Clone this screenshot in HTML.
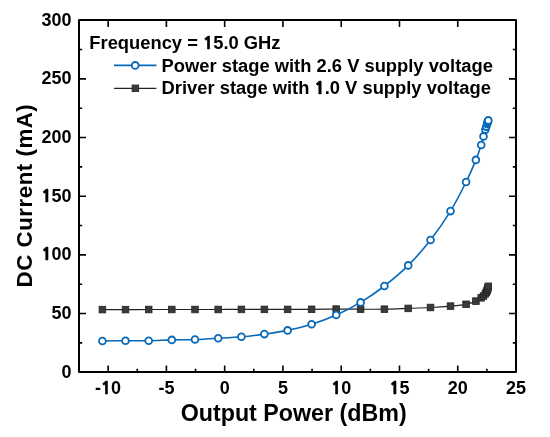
<!DOCTYPE html>
<html><head><meta charset="utf-8"><title>DC Current vs Output Power</title>
<style>
html,body{margin:0;padding:0;background:#fff;}
svg{display:block;}
text{font-family:"Liberation Sans",Arial,sans-serif;font-weight:bold;fill:#000;}
.one{font-family:"NanumGothic","Liberation Sans",sans-serif;font-weight:800;stroke:#000;stroke-width:0.5px;}
</style></head><body>
<svg width="550" height="437" viewBox="0 0 550 437">
<rect width="550" height="437" fill="#fff"/>
<rect x="79.00" y="20.00" width="437.00" height="352.00" fill="none" stroke="#000" stroke-width="2" stroke-linejoin="round"/>
<path d="M108.13,372.00v-6.4 M108.13,20.00v7.1 M166.40,372.00v-6.4 M166.40,20.00v7.1 M224.67,372.00v-6.4 M224.67,20.00v7.1 M282.93,372.00v-6.4 M282.93,20.00v7.1 M341.20,372.00v-6.4 M341.20,20.00v7.1 M399.47,372.00v-6.4 M399.47,20.00v7.1 M457.73,372.00v-6.4 M457.73,20.00v7.1 M137.27,372.00v-3.2 M195.53,372.00v-3.2 M253.80,372.00v-3.2 M312.07,372.00v-3.2 M370.33,372.00v-3.2 M428.60,372.00v-3.2 M486.87,372.00v-3.2 M79.00,313.53h7 M516.00,313.53h-7 M79.00,254.87h7 M516.00,254.87h-7 M79.00,196.20h7 M516.00,196.20h-7 M79.00,137.53h7 M516.00,137.53h-7 M79.00,78.87h7 M516.00,78.87h-7 M79.00,342.87h3.2 M516.00,342.87h-3.2 M79.00,284.20h3.2 M516.00,284.20h-3.2 M79.00,225.53h3.2 M516.00,225.53h-3.2 M79.00,166.87h3.2 M516.00,166.87h-3.2 M79.00,108.20h3.2 M516.00,108.20h-3.2 M79.00,49.53h3.2 M516.00,49.53h-3.2" stroke="#000" stroke-width="1.6" fill="none"/>
<text x="71.6" y="377.50" text-anchor="end" font-size="18">0</text>
<text x="71.6" y="318.83" text-anchor="end" font-size="18">50</text>
<text x="71.6" y="260.17" text-anchor="end" font-size="18"><tspan class="one" font-size="16.67">1</tspan><tspan dx="-0.09">00</tspan></text>
<text x="71.6" y="201.50" text-anchor="end" font-size="18"><tspan class="one" font-size="16.67">1</tspan><tspan dx="-0.09">50</tspan></text>
<text x="71.6" y="142.83" text-anchor="end" font-size="18">200</text>
<text x="71.6" y="84.17" text-anchor="end" font-size="18">250</text>
<text x="71.6" y="25.50" text-anchor="end" font-size="18">300</text>
<text x="108.13" y="393.6" text-anchor="middle" font-size="18">-<tspan class="one" font-size="16.67">1</tspan><tspan dx="-0.09">0</tspan></text>
<text x="166.40" y="393.6" text-anchor="middle" font-size="18">-5</text>
<text x="224.67" y="393.6" text-anchor="middle" font-size="18">0</text>
<text x="282.93" y="393.6" text-anchor="middle" font-size="18">5</text>
<text x="341.20" y="393.6" text-anchor="middle" font-size="18"><tspan class="one" font-size="16.67">1</tspan><tspan dx="-0.09">0</tspan></text>
<text x="399.47" y="393.6" text-anchor="middle" font-size="18"><tspan class="one" font-size="16.67">1</tspan><tspan dx="-0.09">5</tspan></text>
<text x="457.73" y="393.6" text-anchor="middle" font-size="18">20</text>
<text x="516.00" y="393.6" text-anchor="middle" font-size="18">25</text>
<text x="293.7" y="421" text-anchor="middle" font-size="23.25">Output Power (dBm)</text>
<text transform="translate(32.3,195.8) rotate(-90)" x="0" y="0" text-anchor="middle" font-size="22.3" textLength="183.2" lengthAdjust="spacing">DC Current (mA)</text>
<path d="M102.40,309.60 C106.25,309.60 117.78,309.62 125.50,309.60 C133.22,309.58 140.98,309.52 148.70,309.50 C156.42,309.48 164.08,309.50 171.80,309.50 C179.52,309.50 187.27,309.50 195.00,309.50 C202.73,309.50 210.47,309.52 218.20,309.50 C225.93,309.48 233.70,309.42 241.40,309.40 C249.10,309.38 256.70,309.40 264.40,309.40 C272.10,309.40 279.73,309.42 287.60,309.40 C295.47,309.38 303.50,309.35 311.60,309.30 C319.70,309.25 328.03,309.12 336.20,309.10 C344.37,309.08 352.57,309.18 360.60,309.20 C368.63,309.22 376.47,309.33 384.40,309.20 C392.33,309.07 400.52,308.68 408.20,308.40 C415.88,308.12 423.45,307.88 430.50,307.50 C437.55,307.12 444.57,306.63 450.50,306.10 C456.43,305.57 461.87,305.13 466.10,304.30 C470.33,303.47 473.38,302.18 475.90,301.10 C478.42,300.02 479.93,298.65 481.20,297.80 C482.47,296.95 482.80,296.67 483.50,296.00 C484.20,295.33 484.93,294.42 485.40,293.80 C485.87,293.18 486.02,292.80 486.30,292.30 C486.58,291.80 486.90,291.28 487.10,290.80 C487.30,290.32 487.37,289.88 487.50,289.40 C487.63,288.92 487.77,288.42 487.90,287.90 C488.03,287.38 488.23,286.57 488.30,286.30" stroke="#222" stroke-width="1.2" fill="none"/>
<rect x="99.10" y="306.30" width="6.6" height="6.6" fill="#3a3a3a" stroke="#242424" stroke-width="0.8"/>
<rect x="122.20" y="306.30" width="6.6" height="6.6" fill="#3a3a3a" stroke="#242424" stroke-width="0.8"/>
<rect x="145.40" y="306.20" width="6.6" height="6.6" fill="#3a3a3a" stroke="#242424" stroke-width="0.8"/>
<rect x="168.50" y="306.20" width="6.6" height="6.6" fill="#3a3a3a" stroke="#242424" stroke-width="0.8"/>
<rect x="191.70" y="306.20" width="6.6" height="6.6" fill="#3a3a3a" stroke="#242424" stroke-width="0.8"/>
<rect x="214.90" y="306.20" width="6.6" height="6.6" fill="#3a3a3a" stroke="#242424" stroke-width="0.8"/>
<rect x="238.10" y="306.10" width="6.6" height="6.6" fill="#3a3a3a" stroke="#242424" stroke-width="0.8"/>
<rect x="261.10" y="306.10" width="6.6" height="6.6" fill="#3a3a3a" stroke="#242424" stroke-width="0.8"/>
<rect x="284.30" y="306.10" width="6.6" height="6.6" fill="#3a3a3a" stroke="#242424" stroke-width="0.8"/>
<rect x="308.30" y="306.00" width="6.6" height="6.6" fill="#3a3a3a" stroke="#242424" stroke-width="0.8"/>
<rect x="332.90" y="305.80" width="6.6" height="6.6" fill="#3a3a3a" stroke="#242424" stroke-width="0.8"/>
<rect x="357.30" y="305.90" width="6.6" height="6.6" fill="#3a3a3a" stroke="#242424" stroke-width="0.8"/>
<rect x="381.10" y="305.90" width="6.6" height="6.6" fill="#3a3a3a" stroke="#242424" stroke-width="0.8"/>
<rect x="404.90" y="305.10" width="6.6" height="6.6" fill="#3a3a3a" stroke="#242424" stroke-width="0.8"/>
<rect x="427.20" y="304.20" width="6.6" height="6.6" fill="#3a3a3a" stroke="#242424" stroke-width="0.8"/>
<rect x="447.20" y="302.80" width="6.6" height="6.6" fill="#3a3a3a" stroke="#242424" stroke-width="0.8"/>
<rect x="462.80" y="301.00" width="6.6" height="6.6" fill="#3a3a3a" stroke="#242424" stroke-width="0.8"/>
<rect x="472.60" y="297.80" width="6.6" height="6.6" fill="#3a3a3a" stroke="#242424" stroke-width="0.8"/>
<rect x="477.90" y="294.50" width="6.6" height="6.6" fill="#3a3a3a" stroke="#242424" stroke-width="0.8"/>
<rect x="480.20" y="292.70" width="6.6" height="6.6" fill="#3a3a3a" stroke="#242424" stroke-width="0.8"/>
<rect x="482.10" y="290.50" width="6.6" height="6.6" fill="#3a3a3a" stroke="#242424" stroke-width="0.8"/>
<rect x="483.00" y="289.00" width="6.6" height="6.6" fill="#3a3a3a" stroke="#242424" stroke-width="0.8"/>
<rect x="483.80" y="287.50" width="6.6" height="6.6" fill="#3a3a3a" stroke="#242424" stroke-width="0.8"/>
<rect x="484.20" y="286.10" width="6.6" height="6.6" fill="#3a3a3a" stroke="#242424" stroke-width="0.8"/>
<rect x="484.60" y="284.60" width="6.6" height="6.6" fill="#3a3a3a" stroke="#242424" stroke-width="0.8"/>
<rect x="485.00" y="283.00" width="6.6" height="6.6" fill="#3a3a3a" stroke="#242424" stroke-width="0.8"/>
<path d="M102.40,341.00 C106.25,340.95 117.78,340.75 125.50,340.70 C133.22,340.65 140.98,340.83 148.70,340.70 C156.42,340.57 164.08,340.10 171.80,339.90 C179.52,339.70 187.27,339.77 195.00,339.50 C202.73,339.23 210.47,338.75 218.20,338.30 C225.93,337.85 233.70,337.50 241.40,336.80 C249.10,336.10 256.70,335.17 264.40,334.10 C272.10,333.03 279.73,332.05 287.60,330.40 C295.47,328.75 303.50,326.77 311.60,324.20 C319.70,321.63 328.03,318.63 336.20,315.00 C344.37,311.37 352.57,307.23 360.60,302.40 C368.63,297.57 376.47,292.17 384.40,286.00 C392.33,279.83 400.52,273.07 408.20,265.40 C415.88,257.73 423.45,249.05 430.50,240.00 C437.55,230.95 444.57,220.77 450.50,211.10 C456.43,201.43 461.87,190.53 466.10,182.00 C470.33,173.47 473.38,166.07 475.90,159.90 C478.42,153.73 479.93,148.92 481.20,145.00 C482.47,141.08 482.80,138.97 483.50,136.40 C484.20,133.83 484.93,131.23 485.40,129.60 C485.87,127.97 486.02,127.53 486.30,126.60 C486.58,125.67 486.90,124.67 487.10,124.00 C487.30,123.33 487.37,123.03 487.50,122.60 C487.63,122.17 487.77,121.77 487.90,121.40 C488.03,121.03 488.23,120.57 488.30,120.40" stroke="#0868b8" stroke-width="1.6" fill="none"/>
<circle cx="102.40" cy="341.00" r="3.4" fill="#fff" stroke="#0868b8" stroke-width="1.8"/>
<circle cx="125.50" cy="340.70" r="3.4" fill="#fff" stroke="#0868b8" stroke-width="1.8"/>
<circle cx="148.70" cy="340.70" r="3.4" fill="#fff" stroke="#0868b8" stroke-width="1.8"/>
<circle cx="171.80" cy="339.90" r="3.4" fill="#fff" stroke="#0868b8" stroke-width="1.8"/>
<circle cx="195.00" cy="339.50" r="3.4" fill="#fff" stroke="#0868b8" stroke-width="1.8"/>
<circle cx="218.20" cy="338.30" r="3.4" fill="#fff" stroke="#0868b8" stroke-width="1.8"/>
<circle cx="241.40" cy="336.80" r="3.4" fill="#fff" stroke="#0868b8" stroke-width="1.8"/>
<circle cx="264.40" cy="334.10" r="3.4" fill="#fff" stroke="#0868b8" stroke-width="1.8"/>
<circle cx="287.60" cy="330.40" r="3.4" fill="#fff" stroke="#0868b8" stroke-width="1.8"/>
<circle cx="311.60" cy="324.20" r="3.4" fill="#fff" stroke="#0868b8" stroke-width="1.8"/>
<circle cx="336.20" cy="315.00" r="3.4" fill="#fff" stroke="#0868b8" stroke-width="1.8"/>
<circle cx="360.60" cy="302.40" r="3.4" fill="#fff" stroke="#0868b8" stroke-width="1.8"/>
<circle cx="384.40" cy="286.00" r="3.4" fill="#fff" stroke="#0868b8" stroke-width="1.8"/>
<circle cx="408.20" cy="265.40" r="3.4" fill="#fff" stroke="#0868b8" stroke-width="1.8"/>
<circle cx="430.50" cy="240.00" r="3.4" fill="#fff" stroke="#0868b8" stroke-width="1.8"/>
<circle cx="450.50" cy="211.10" r="3.4" fill="#fff" stroke="#0868b8" stroke-width="1.8"/>
<circle cx="466.10" cy="182.00" r="3.4" fill="#fff" stroke="#0868b8" stroke-width="1.8"/>
<circle cx="475.90" cy="159.90" r="3.4" fill="#fff" stroke="#0868b8" stroke-width="1.8"/>
<circle cx="481.20" cy="145.00" r="3.4" fill="#fff" stroke="#0868b8" stroke-width="1.8"/>
<circle cx="483.50" cy="136.40" r="3.4" fill="#fff" stroke="#0868b8" stroke-width="1.8"/>
<circle cx="485.40" cy="129.60" r="3.4" fill="#fff" stroke="#0868b8" stroke-width="1.8"/>
<circle cx="486.30" cy="126.60" r="3.4" fill="#fff" stroke="#0868b8" stroke-width="1.8"/>
<circle cx="487.10" cy="124.00" r="3.4" fill="#fff" stroke="#0868b8" stroke-width="1.8"/>
<circle cx="487.50" cy="122.60" r="3.4" fill="#fff" stroke="#0868b8" stroke-width="1.8"/>
<circle cx="487.90" cy="121.40" r="3.4" fill="#fff" stroke="#0868b8" stroke-width="1.8"/>
<circle cx="488.30" cy="120.40" r="3.4" fill="#fff" stroke="#0868b8" stroke-width="1.8"/>
<text x="89.3" y="49.0" font-size="18.35">Frequency = <tspan class="one" font-size="16.99">1</tspan><tspan dx="-0.09">5.0 GHz</tspan></text>
<path d="M114,65.4h42.4" stroke="#0868b8" stroke-width="1.6"/>
<circle cx="135.2" cy="65.4" r="3.4" fill="#fff" stroke="#0868b8" stroke-width="1.8"/>
<text x="161.6" y="71.6" font-size="18.35">Power stage with 2.6 V supply voltage</text>
<path d="M114,88.3h42.4" stroke="#222" stroke-width="1.2"/>
<rect x="132.1" y="85.0" width="6.6" height="6.6" fill="#3a3a3a" stroke="#242424" stroke-width="0.8"/>
<text x="161.6" y="94.2" font-size="18.35">Driver stage with <tspan class="one" font-size="16.99">1</tspan><tspan dx="-0.09">.0 V supply voltage</tspan></text>
</svg>
</body></html>
